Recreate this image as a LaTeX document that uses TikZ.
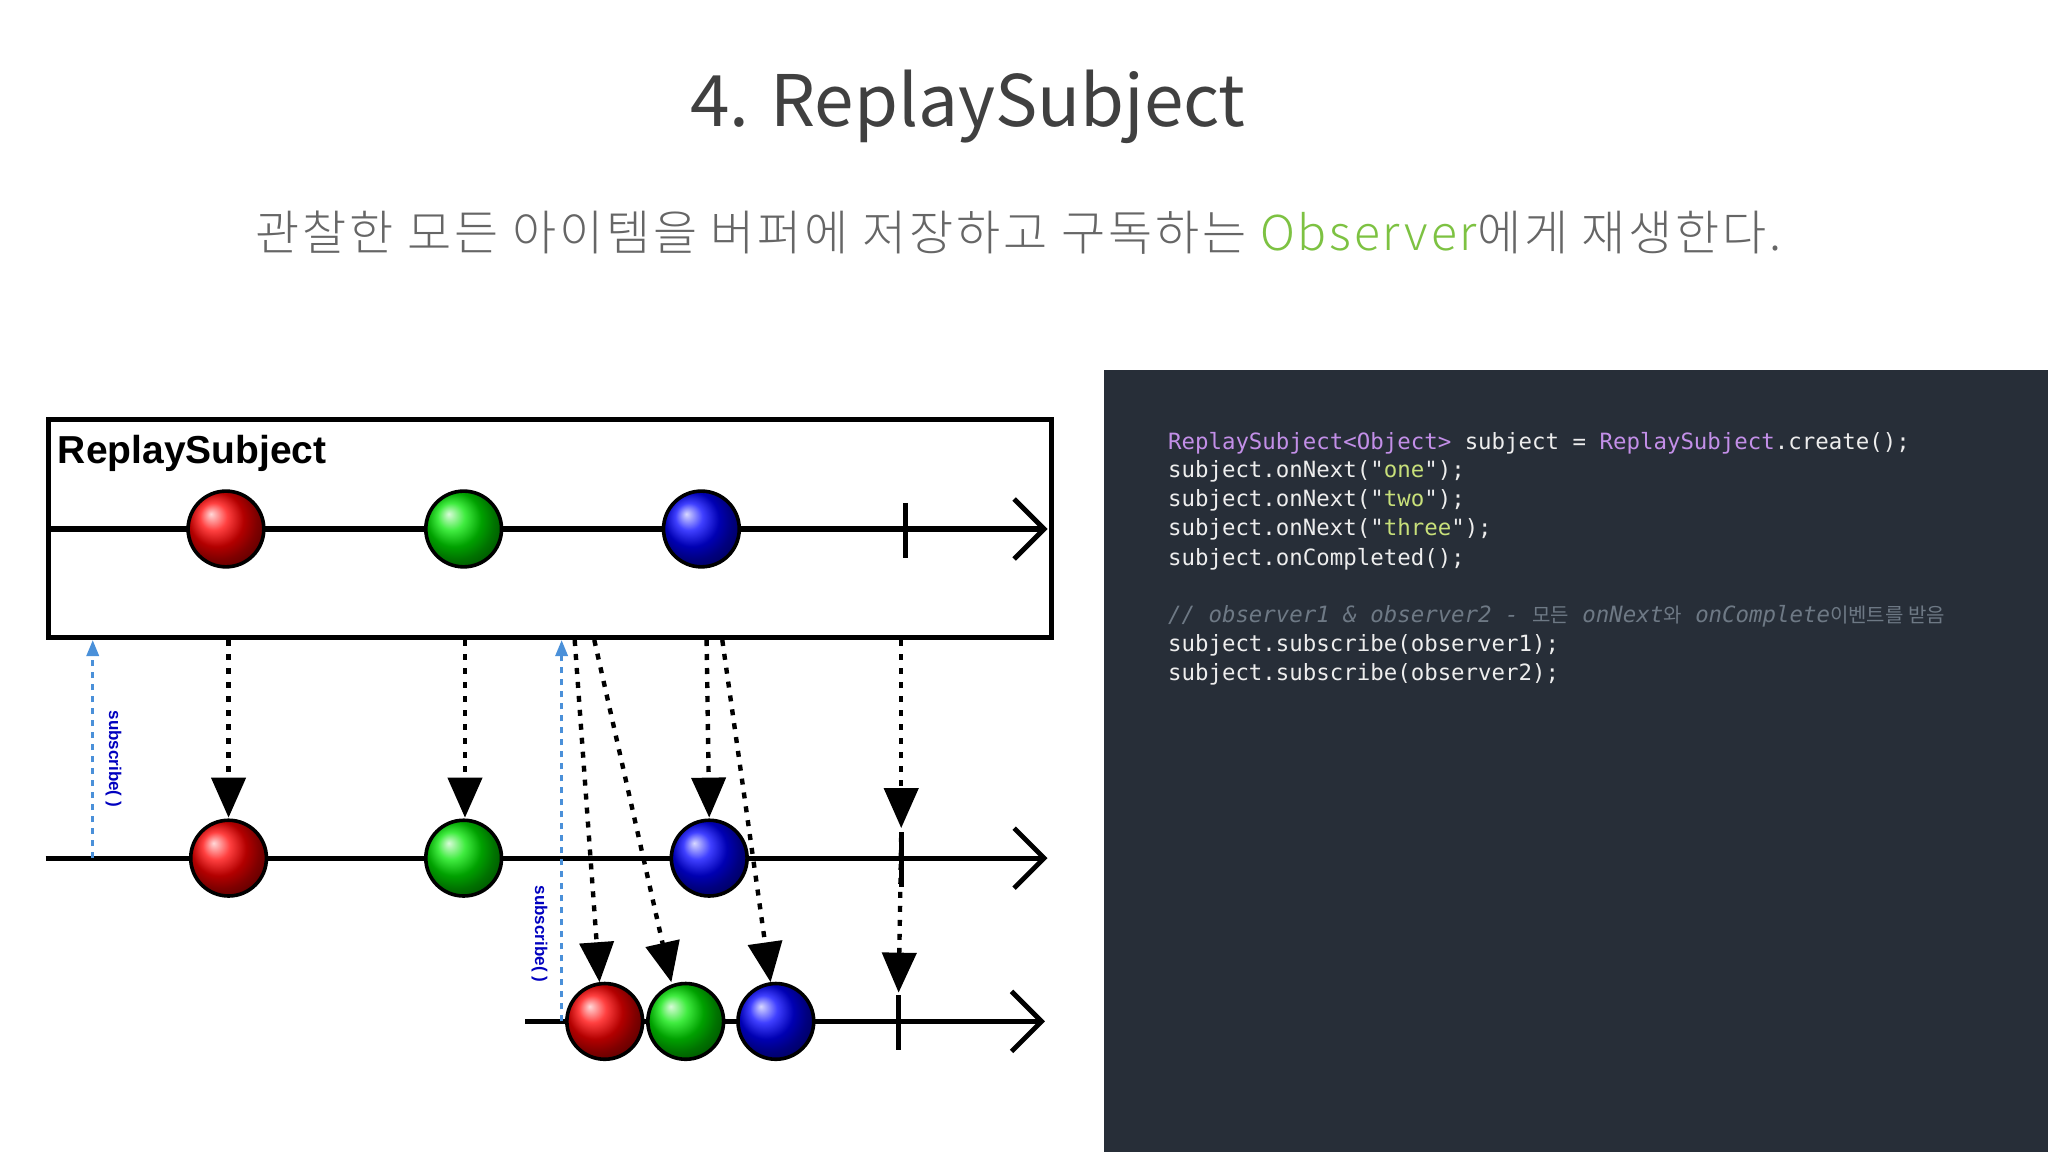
\documentclass[tikz,border=0pt]{standalone}
\usepackage{fontspec}
\setmainfont{Noto Sans CJK KR}
\newfontfamily\kr{Noto Sans CJK KR}
\newfontfamily\krl[LetterSpace=6]{Noto Sans CJK KR Light}
\newfontfamily\hv{Liberation Sans}
\setmonofont{DejaVu Sans Mono}
\usetikzlibrary{arrows.meta,shadings}
\definecolor{titlegray}{HTML}{404040}
\definecolor{panel}{HTML}{272E38}
\definecolor{obsgreen}{HTML}{7DC242}
\definecolor{kwpurple}{HTML}{C38FE8}
\definecolor{strgreen}{HTML}{C8E07A}
\definecolor{codewhite}{HTML}{EDEDED}
\definecolor{cmt}{HTML}{6E7985}
\definecolor{subblue}{HTML}{4A90D9}
\tikzset{
  marble/.style={circle,draw=black,line width=1.8pt,minimum size={58*0.6531pt},inner sep=0pt,shading=ball},
  tl/.style={line width=2.6pt,-{Straight Barb[length=15pt,width=30pt,line width=2.4pt]}},
  tick/.style={line width=2.6pt},
  emit/.style={line width=2.2pt,dash pattern=on 3pt off 4pt,-{Triangle[length=20pt,width=17pt]}},
  subs/.style={subblue,line width=1.6pt,dash pattern=on 3pt off 3pt,-{Triangle[length=8pt,width=6pt]}},
  code/.style={anchor=west,inner sep=0pt,font=\ttfamily\fontsize{11.2}{13}\selectfont,text=codewhite},
  slbl/.style={rotate=-90,text=blue!75!black,font=\hv\bfseries\fontsize{8.5}{10}\selectfont},
}
\begin{document}
\begin{tikzpicture}[x=0.6531pt,y=-0.6531pt]
\useasboundingbox[fill=white] (0,0) rectangle (1568,882);
\node[text=titlegray,font=\kr\fontsize{35.5}{40}\selectfont] (title) at (741,82) {4. ReplaySubject};
\node[text=titlegray!80,font=\krl\fontsize{24}{28}\selectfont] (sub) at (780,178)
  {관찰한\ 모든\ 아이템을\ 버퍼에\ 저장하고\ 구독하는\ \textcolor{obsgreen}{Observer}에게\ 재생한다.};
% panel
\fill[panel] (845,283) rectangle (1568,882);
\node[code] (c1) at (894,339) {\textcolor{kwpurple}{ReplaySubject<Object>} subject = \textcolor{kwpurple}{ReplaySubject}.create();};
\node[code] (c2) at (894,361) {subject.onNext("\textcolor{strgreen}{one}");};
\node[code] (c3) at (894,383) {subject.onNext("\textcolor{strgreen}{two}");};
\node[code] (c4) at (894,405) {subject.onNext("\textcolor{strgreen}{three}");};
\node[code] (c5) at (894,428) {subject.onCompleted();};
\node[code,text=cmt] (c6) at (894,472) {\itshape // observer1 \& observer2 - {\upshape\kr\fontsize{10}{12}\selectfont 모든} onNext{\upshape\kr\fontsize{10}{12}\selectfont 와} onComplete{\upshape\kr\fontsize{10}{12}\selectfont 이벤트를 받음}};
\node[code] (c7) at (894,494) {subject.subscribe(observer1);};
\node[code] (c8) at (894,516) {subject.subscribe(observer2);};
% diagram box
\draw[line width=2.5pt] (37,321) rectangle (805,488);
\node[anchor=west,inner sep=0pt,font=\hv\bfseries\fontsize{19.5}{22}\selectfont] (lbl) at (44,347) {ReplaySubject};
% timelines
\coordinate (t1s) at (37,405); \coordinate (t1e) at (802,405);
\coordinate (t2s) at (35,657); \coordinate (t2e) at (802,657);
\coordinate (t3s) at (402,782); \coordinate (t3e) at (800,782);
\draw[tl] (t1s) -- (t1e);
\draw[tl] (t2s) -- (t2e);
\draw[tl] (t3s) -- (t3e);
% ticks
\coordinate (k1a) at (693,385); \coordinate (k1b) at (693,427);
\coordinate (k2a) at (690,637); \coordinate (k2b) at (690,679);
\coordinate (k3a) at (688,762); \coordinate (k3b) at (688,804);
\draw[tick] (k1a)--(k1b); \draw[tick] (k2a)--(k2b); \draw[tick] (k3a)--(k3b);
% emission arrows
\coordinate (e1) at (175,490); \coordinate (e1e) at (175,626);
\coordinate (e2) at (356,490); \coordinate (e2e) at (356,626);
\coordinate (e3) at (541,490); \coordinate (e3e) at (543,626);
\coordinate (e4) at (690,490); \coordinate (e4e) at (690,634);
\coordinate (e5) at (690,640); \coordinate (e5e) at (688,760);
\coordinate (d1) at (440,490); \coordinate (d1e) at (459,752);
\coordinate (d2) at (455,490); \coordinate (d2e) at (514,752);
\coordinate (d3) at (553,490); \coordinate (d3e) at (590,752);
\foreach \a/\b in {e1/e1e,e2/e2e,e3/e3e,e4/e4e,e5/e5e,d1/d1e,d2/d2e,d3/d3e}
  \draw[emit] (\a) -- (\b);
% subscribe arrows
\coordinate (s1) at (71,657); \coordinate (s1e) at (71,490);
\coordinate (s2) at (430,782); \coordinate (s2e) at (430,490);
\draw[subs] (s1) -- (s1e);
\draw[subs] (s2) -- (s2e);
\node[slbl] (sl1) at (87,581) {subscribe( )};
\node[slbl] (sl2) at (413,715) {subscribe( )};
% marbles
\node[marble,ball color=red] (r1) at (173,405) {};
\node[marble,ball color=green!90!black] (g1) at (355,405) {};
\node[marble,ball color=blue] (b1) at (537,405) {};
\node[marble,ball color=red] (r2) at (175,657) {};
\node[marble,ball color=green!90!black] (g2) at (355,657) {};
\node[marble,ball color=blue] (b2) at (543,657) {};
\node[marble,ball color=red] (r3) at (463,782) {};
\node[marble,ball color=green!90!black] (g3) at (525,782) {};
\node[marble,ball color=blue] (b3) at (594,782) {};
\end{tikzpicture}
\end{document}
